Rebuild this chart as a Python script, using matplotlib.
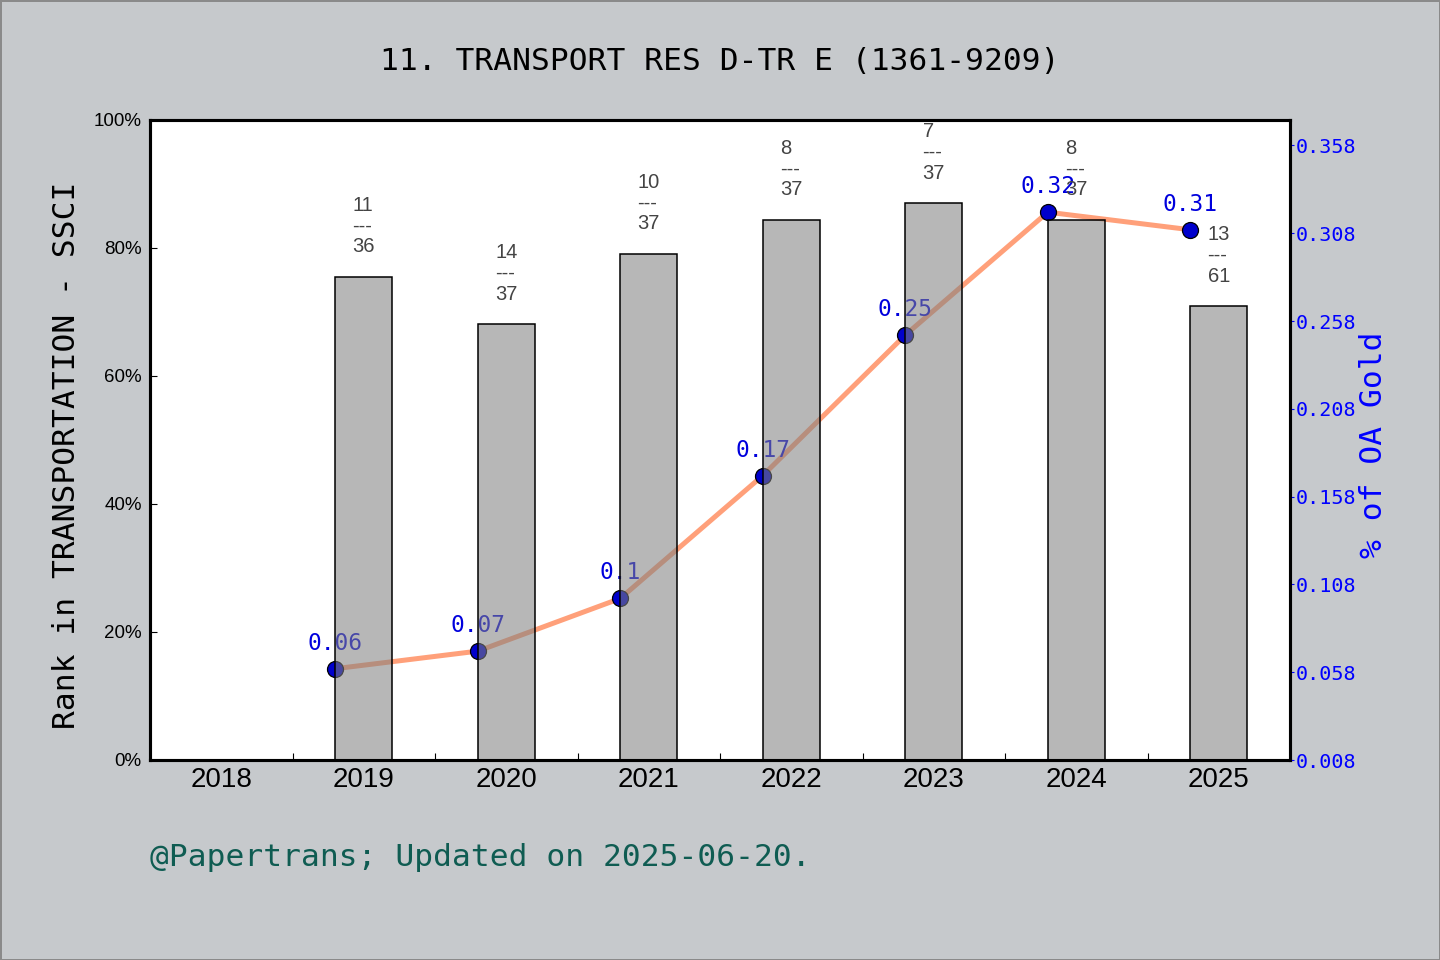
import matplotlib
matplotlib.use("Agg")
import matplotlib.pyplot as plt
from matplotlib.ticker import FixedLocator

years = [2018, 2019, 2020, 2021, 2022, 2023, 2024, 2025]

# rank percentile bars (left axis, %), no entry for 2018
bar_years = [2019, 2020, 2021, 2022, 2023, 2024, 2025]
rank_pct = [75.5, 68.1, 79.1, 84.4, 87.0, 84.4, 70.9]
rank_pos = [11, 14, 10, 8, 7, 8, 13]
rank_total = [36, 37, 37, 37, 37, 37, 61]

# share of OA Gold (right axis)
oa_gold = [0.06, 0.07, 0.10, 0.17, 0.25, 0.32, 0.31]
oa_ticks = [0.008, 0.058, 0.108, 0.158, 0.208, 0.258, 0.308, 0.358]

TITLE = "11. TRANSPORT RES D-TR E (1361-9209)"
FOOTER = "@Papertrans; Updated on 2025-06-20."
MONO = "DejaVu Sans Mono"
SANS = "Liberation Sans"
BG = "#c6c9cc"


def main():
    fig = plt.figure(figsize=(14.4, 9.6), dpi=100, facecolor=BG,
                     edgecolor="#8a8a8a", linewidth=1.0)
    ax = fig.add_axes([150 / 1440, 1 - 760 / 960, 1140 / 1440, 640 / 960])
    ax2 = ax.twinx()

    # bars sit above the line axis, semi-transparent
    ax.set_zorder(2)
    ax2.set_zorder(1)
    ax.patch.set_visible(False)
    ax2.patch.set_visible(True)
    ax2.patch.set_facecolor("white")

    ax.bar(bar_years, rank_pct, width=0.4, color=(0.5, 0.5, 0.5, 0.56),
           edgecolor="black", linewidth=1.1)
    for x, h, r, t in zip(bar_years, rank_pct, rank_pos, rank_total):
        ax.text(x, h + 3.2, f"{r}\n---\n{t}", ha="center", va="bottom",
                multialignment="left", fontsize=14.5, color="#444444",
                family=SANS, linespacing=1.12)

    ax2.plot([y - 0.2 for y in bar_years], oa_gold, color="#ffa07a",
             linewidth=3.6, marker="o", markersize=11.5,
             markerfacecolor="#0000cc", markeredgecolor="black",
             markeredgewidth=0.9, zorder=3)
    for x, v in zip(bar_years, oa_gold):
        ax2.text(x - 0.2, v + 0.008, f"{v:g}", ha="center", va="bottom",
                 fontsize=16.5, color="#0000dd", family=MONO)

    ax.set_xlim(2017.5, 2025.5)
    ax.set_ylim(0, 100)
    ax.set_yticks([0, 20, 40, 60, 80, 100])
    ax.set_yticklabels(["0%", "20%", "40%", "60%", "80%", "100%"],
                       family=SANS, fontsize=13.5)
    ax.set_xticks(years)
    ax.set_xticklabels([str(y) for y in years], family=SANS, fontsize=20)
    ax.xaxis.set_minor_locator(FixedLocator([y + 0.5 for y in years[:-1]]))
    ax.tick_params(axis="x", which="major", length=0, pad=5)
    ax.tick_params(axis="x", which="minor", direction="in", length=5,
                   width=0.8)
    ax.tick_params(axis="y", direction="in", length=5, width=0.8, pad=6)

    ax2.set_ylim(0.008, 0.3725)
    ax2.set_yticks(oa_ticks)
    ax2.set_yticklabels([f"{t:.3f}" for t in oa_ticks], family=MONO,
                        fontsize=14.5, color="blue")
    ax2.tick_params(axis="y", colors="blue", direction="out", length=3,
                    width=0.8, pad=1)

    for a in (ax, ax2):
        for s in a.spines.values():
            s.set_linewidth(2.2)
            s.set_color("black")

    fig.text(0.5, 1 - 70 / 960, TITLE, ha="center", va="baseline",
             fontsize=22.5, family=MONO, color="black")
    fig.text(67 / 1440, 1 - 455 / 960, "Rank in TRANSPORTATION - SSCI",
             rotation=90, ha="center", va="center", fontsize=22.5,
             family=MONO, color="black")
    fig.text(1374 / 1440, 1 - 445 / 960, "% of OA Gold", rotation=90,
             ha="center", va="center", fontsize=22.5, family=MONO,
             color="blue")
    fig.text(150 / 1440, 1 - 866 / 960, FOOTER, ha="left", va="baseline",
             fontsize=22.5, family=MONO, color="#0f5c52")

    fig.savefig("out.png", dpi=100, facecolor=BG, edgecolor="#8a8a8a")
    plt.close(fig)


if __name__ == "__main__":
    main()
